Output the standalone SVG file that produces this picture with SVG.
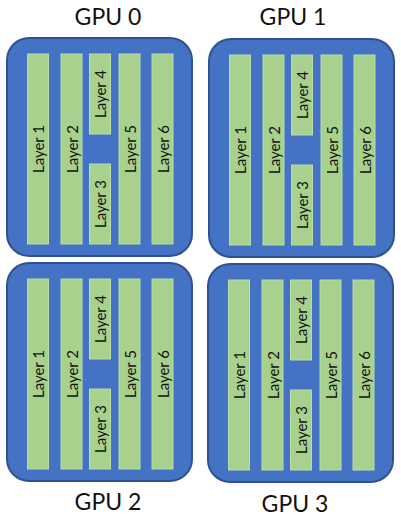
<svg xmlns="http://www.w3.org/2000/svg" width="401" height="522" viewBox="0 0 401 522">
<defs>
<style>
.gpu{fill:#4472C4;stroke:#2F528F;stroke-width:2}
.bar{fill:#A9D18E;stroke:#BCDCA6;stroke-width:1}
.lbl{font-family:Lato,"Liberation Sans",sans-serif;font-size:15px;fill:#111;text-anchor:middle;dominant-baseline:central}
.title{font-family:Lato,"Liberation Sans",sans-serif;font-size:23px;fill:#111;text-anchor:middle}
</style>
<g id="gpuTemplate">
<rect class="gpu" x="0" y="0" width="185" height="218" rx="22"/>
<rect class="bar" x="20.5" y="16" width="21" height="190"/>
<rect class="bar" x="54" y="16" width="21" height="190"/>
<rect class="bar" x="82.5" y="16" width="21" height="80"/>
<rect class="bar" x="82.5" y="126" width="21" height="80"/>
<rect class="bar" x="112" y="16" width="21" height="190"/>
<rect class="bar" x="145" y="16" width="21" height="190"/>
<text class="lbl" transform="translate(31,111) rotate(-90)">Layer 1</text>
<text class="lbl" transform="translate(64.5,111) rotate(-90)">Layer 2</text>
<text class="lbl" transform="translate(93,56) rotate(-90)">Layer 4</text>
<text class="lbl" transform="translate(93,166) rotate(-90)">Layer 3</text>
<text class="lbl" transform="translate(122.5,111) rotate(-90)">Layer 5</text>
<text class="lbl" transform="translate(155.5,111) rotate(-90)">Layer 6</text>
</g>
</defs>
<g id="gpu0">
<use href="#gpuTemplate" transform="translate(7,38)"/>
<text class="title" x="108" y="25">GPU 0</text>
</g>
<g id="gpu1">
<use href="#gpuTemplate" transform="translate(209,39)"/>
<text class="title" x="293" y="25">GPU 1</text>
</g>
<g id="gpu2">
<use href="#gpuTemplate" transform="translate(7,263)"/>
<text class="title" x="108" y="510">GPU 2</text>
</g>
<g id="gpu3">
<use href="#gpuTemplate" transform="translate(208,264)"/>
<text class="title" x="295" y="512">GPU 3</text>
</g>
<g id="connectors"/>
</svg>
